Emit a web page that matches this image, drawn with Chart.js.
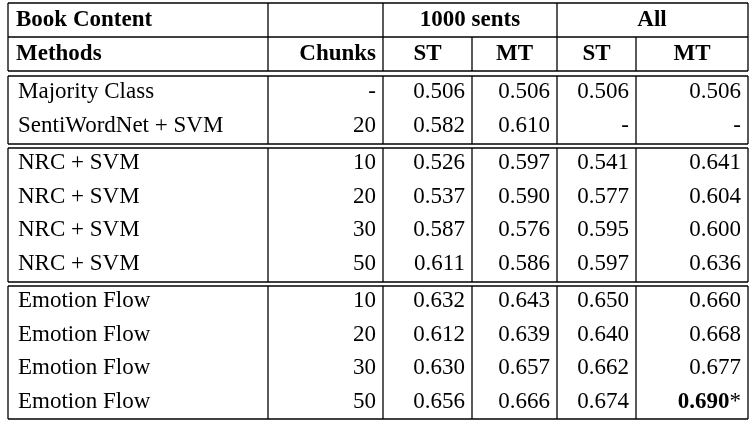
<!DOCTYPE html><html><head><meta charset="utf-8">
<script src="https://cdn.jsdelivr.net/npm/chart.js@4"></script>
<style>html,body{margin:0;padding:0;background:#fff}#w{width:756px;height:422px}</style></head><body>
<div id="w"><canvas id="c"></canvas></div>
<script>
const methods=["Majority Class","SentiWordNet + SVM","NRC + SVM","NRC + SVM","NRC + SVM","NRC + SVM","Emotion Flow","Emotion Flow","Emotion Flow","Emotion Flow"];
const chunks=["-","20","10","20","30","50","10","20","30","50"];
const st1000=["0.506","0.582","0.526","0.537","0.587","0.611","0.632","0.612","0.630","0.656"];
const mt1000=["0.506","0.610","0.597","0.590","0.576","0.586","0.643","0.639","0.657","0.666"];
const stAll=["0.506","-","0.541","0.577","0.595","0.597","0.650","0.640","0.662","0.674"];
const mtAll=["0.506","-","0.641","0.604","0.600","0.636","0.660","0.668","0.677","0.690"];
const colEdges=[8,268,383,472,557,636,748];
const rowY=[92,126,163,197,230,264,301,335,368,402];
const hLines=[[3],[37],[71,76],[144,148],[282,286],[419]];
const tablePlugin={id:'tbl',afterDraw(ch){
 const c=ch.ctx,X=v=>ch.scales.x.getPixelForValue(v),Y=v=>ch.scales.y.getPixelForValue(v);
 c.save();c.strokeStyle='#000';c.lineWidth=1.3;
 hLines.flat().forEach(y=>{c.beginPath();c.moveTo(X(colEdges[0]),Y(y));c.lineTo(X(colEdges[6]),Y(y));c.stroke();});
 const segs=[[3,37],[37,71],[76,144],[148,282],[286,419]];
 colEdges.forEach((x,i)=>segs.forEach(([a,b],j)=>{if(j==0&&(i==3||i==5))return; c.beginPath();c.moveTo(X(x),Y(a));c.lineTo(X(x),Y(b));c.stroke();}));
 c.fillStyle='#000';c.textBaseline='middle';
 const txt=(t,x,y,al,b)=>{c.font=(b?'bold ':'')+'23px "Liberation Serif"';c.textAlign=al;c.fillText(t,X(x),Y(y));};
 txt("Book Content",16,20,'left',1);txt("1000 sents",470,20,'center',1);txt("All",652,20,'center',1);
 txt("Methods",16,54,'left',1);txt("Chunks",376,54,'right',1);
 ["ST","MT","ST","MT"].forEach((t,i)=>txt(t,(colEdges[i+2]+colEdges[i+3])/2,54,'center',1));
 rowY.forEach((y,r)=>{
  txt(methods[r],18,y,'left');txt(chunks[r],376,y,'right');
  txt(st1000[r],465,y,'right');txt(mt1000[r],550,y,'right');txt(stAll[r],629,y,'right');
  if(r==9){c.font='23px "Liberation Serif"';const w=c.measureText('*').width;txt(mtAll[r],741-w,y,'right',1);txt('*',741,y,'right');}
  else txt(mtAll[r],741,y,'right');
 });
 c.restore();}};
new Chart(document.getElementById('c'),{type:'scatter',data:{datasets:[{data:[]}]},
 options:{responsive:true,maintainAspectRatio:false,animation:false,layout:{padding:0},
 plugins:{legend:{display:false},tooltip:{enabled:false}},
 scales:{x:{type:'linear',min:0,max:756,display:false},y:{type:'linear',min:0,max:422,reverse:true,display:false}}},
 plugins:[tablePlugin]});
</script></body></html>
